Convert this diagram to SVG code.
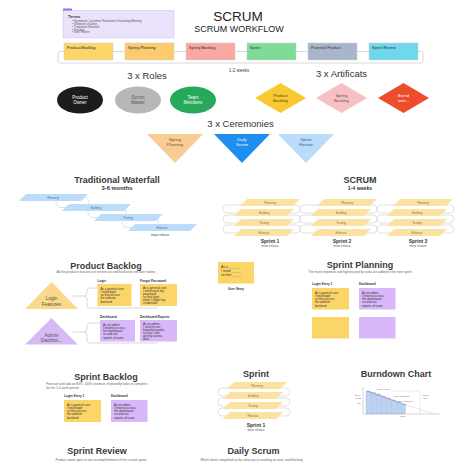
<svg xmlns="http://www.w3.org/2000/svg" width="474" height="474" viewBox="0 0 474 474">
<defs>
<style>
text{font-family:"Liberation Sans",Arial,sans-serif;}
.title{font-size:9px;font-weight:bold;fill:#3a3a3a;text-anchor:middle;}
.sub{font-size:3.2px;fill:#666;text-anchor:middle;}
.tiny{font-size:3px;fill:#555;}
.lbl{font-size:3.6px;font-weight:bold;fill:#555;}
.ctr{text-anchor:middle;}
.wfbox{stroke:#cfcfcf;stroke-width:0.5;}
.conn{fill:none;stroke:#cfcfcf;stroke-width:0.8;}
.pill{fill:#fff;stroke:#cfcfcf;stroke-width:0.6;}
.wf{fill:#bcdcfb;}
.sp{fill:#fbe2a0;}
.pt{font-size:3px;fill:#5a6a80;text-anchor:middle;}
.st{font-size:3px;fill:#8a7440;text-anchor:middle;}
.ny{fill:#fcd569;}
.np{fill:#d9b8f9;}
.nt{font-size:3px;fill:#333;}
.big{font-size:9.5px;fill:#333;text-anchor:middle;}
</style>
<path id="wfp" d="M7,0 H69 L62,7 H0 Z"/>
<path id="spp" d="M7,0 H60 L53,7 H0 Z"/>
</defs>
<rect width="474" height="474" fill="#ffffff"/>

<!-- Terms -->
<g id="terms">
<rect x="63" y="10.5" width="111" height="27.5" fill="#ebe2fc" stroke="#cdbaf2" stroke-width="0.5"/>
<rect x="63" y="8.5" width="9" height="2" fill="#9b6ee0"/>
<text x="68" y="17.5" style="font-size:4.2px;font-weight:bold;fill:#333">Terms</text>
<g class="tiny" style="font-size:2.9px">
<text x="72" y="21.8">• Systematic Customer Resolution Unraveling Meeting</text>
<text x="72" y="24.7">• Definition of Done</text>
<text x="72" y="27.6">• Traditional Waterfall</text>
<text x="72" y="30.5">• Standup</text>
<text x="72" y="33.4">• User Stories</text>
</g>
</g>

<text x="238" y="21" style="font-size:13.5px;fill:#222;text-anchor:middle">SCRUM</text>
<text x="239" y="32" style="font-size:9px;fill:#222;text-anchor:middle">SCRUM WORKFLOW</text>

<!-- Workflow -->
<g id="workflow-connectors">
<path class="conn" d="M113 51.5 H125 M174 51.5 H186 M235 51.5 H247 M296 51.5 H308 M357 51.5 H369"/>
<path class="conn" d="M418 51.5 H421 Q423 51.5 423 53.5 V61 Q423 63 421 63 H60 Q58 63 58 61 V53.5 Q58 51.5 60 51.5 H64"/>
</g>
<g id="wf-product-backlog"><rect class="wfbox" x="64" y="43" width="49" height="17" fill="#fcd667"/><text class="lbl" x="67" y="48.5">Product Backlog</text></g>
<g id="wf-spring-planning"><rect class="wfbox" x="125" y="43" width="49" height="17" fill="#fbcb6d"/><text class="lbl" x="128" y="48.5">Spring Planning</text></g>
<g id="wf-spring-backlog"><rect class="wfbox" x="186" y="43" width="49" height="17" fill="#f9a8a4"/><text class="lbl" x="189" y="48.5">Spring Backlog</text></g>
<g id="wf-sprint"><rect class="wfbox" x="247" y="43" width="49" height="17" fill="#7edc98"/><text class="lbl" x="250" y="48.5">Sprint</text></g>
<g id="wf-potential-product"><rect class="wfbox" x="308" y="43" width="49" height="17" fill="#a9b5ca"/><text class="lbl" x="311" y="48.5">Potential Product</text></g>
<g id="wf-sprint-review"><rect class="wfbox" x="369" y="43" width="49" height="17" fill="#6ed8ef"/><text class="lbl" x="372" y="48.5">Sprint Review</text></g>
<text x="239" y="72" style="font-size:4.5px;fill:#444;text-anchor:middle">1-2 weeks</text>

<!-- Roles -->
<text class="big" x="147" y="79">3 x Roles</text>
<g id="role-po"><ellipse cx="80" cy="100" rx="23" ry="13.5" fill="#1c1c1c"/><text class="ctr" x="80" y="98.5" style="font-size:4.5px;fill:#fff">Product</text><text class="ctr" x="80" y="104" style="font-size:4.5px;fill:#fff">Owner</text></g>
<g id="role-sm"><ellipse cx="138" cy="100" rx="23" ry="13.5" fill="#b7b7b7"/><text class="ctr" x="138" y="98.5" style="font-size:4.5px;fill:#555">Scrum</text><text class="ctr" x="138" y="104" style="font-size:4.5px;fill:#555">Master</text></g>
<g id="role-tm"><ellipse cx="193" cy="100" rx="23" ry="13.5" fill="#27a95c"/><text class="ctr" x="193" y="98.5" style="font-size:4.5px;fill:#fff">Team</text><text class="ctr" x="193" y="104" style="font-size:4.5px;fill:#fff">Members</text></g>

<!-- Artifacts -->
<text class="big" x="341.5" y="77">3 x Artificats</text>
<g id="art-pb"><polygon points="280.5,83 306,98 280.5,113 255,98" fill="#f9c932"/><text class="ctr" x="280.5" y="96.5" style="font-size:4.2px;fill:#5a4500">Product</text><text class="ctr" x="280.5" y="101.8" style="font-size:4.2px;fill:#5a4500">Backlog</text></g>
<g id="art-sb"><polygon points="341.5,83 367,98 341.5,113 316,98" fill="#f7c0c2"/><text class="ctr" x="341.5" y="96.5" style="font-size:4.2px;fill:#555">Spring</text><text class="ctr" x="341.5" y="101.8" style="font-size:4.2px;fill:#555">Backlog</text></g>
<g id="art-bd"><polygon points="403.5,83 429,98 403.5,113 378,98" fill="#ee4c2c"/><text class="ctr" x="403.5" y="96.5" style="font-size:4.2px;fill:#fff">Burnd</text><text class="ctr" x="403.5" y="101.8" style="font-size:4.2px;fill:#fff">own...</text></g>

<!-- Ceremonies -->
<text class="big" x="240.5" y="127">3 x Ceremonies</text>
<g id="cer-sp"><polygon points="147,134 203,134 175,163" fill="#f9cc95"/><text class="ctr" x="175" y="140.5" style="font-size:4.2px;fill:#6a5030">Spring</text><text class="ctr" x="175" y="145.5" style="font-size:4.2px;fill:#6a5030">Planning</text></g>
<g id="cer-ds"><polygon points="214,134 270,134 242,163" fill="#1f8ef1"/><text class="ctr" x="242" y="140.5" style="font-size:4.2px;fill:#fff">Daily</text><text class="ctr" x="242" y="145.5" style="font-size:4.2px;fill:#fff">Scrum</text></g>
<g id="cer-sr"><polygon points="278,134 334,134 306,163" fill="#b9dcfb"/><text class="ctr" x="306" y="140.5" style="font-size:4.2px;fill:#4a5a70">Sprint</text><text class="ctr" x="306" y="145.5" style="font-size:4.2px;fill:#4a5a70">Review</text></g>

<!-- Traditional Waterfall -->
<g id="waterfall">
<text class="title" x="117" y="183">Traditional Waterfall</text>
<text x="117" y="189.5" style="font-size:5.8px;font-weight:bold;fill:#333;text-anchor:middle">3-6 months</text>
<rect class="pill" x="56" y="197" width="33" height="10.5" rx="5"/>
<rect class="pill" x="88" y="207" width="38" height="10.5" rx="5"/>
<rect class="pill" x="122" y="217" width="36" height="10.5" rx="5"/>
<use href="#wfp" class="wf" x="19" y="194"/><text class="pt" x="53" y="198.6">Planning</text>
<use href="#wfp" class="wf" x="62" y="204"/><text class="pt" x="96" y="208.6">Building</text>
<use href="#wfp" class="wf" x="94" y="214"/><text class="pt" x="128" y="218.6">Testing</text>
<use href="#wfp" class="wf" x="128" y="224"/><text class="pt" x="162" y="228.6">Release</text>
<text class="ctr" x="160" y="235.8" style="font-size:3px;fill:#444">major release</text>
</g>

<!-- SCRUM sprints -->
<g id="scrum-sprints">
<text class="title" x="360" y="183">SCRUM</text>
<text x="360" y="189.5" style="font-size:5.2px;font-weight:bold;fill:#333;text-anchor:middle">1-4 weeks</text>
<g id="sprint1">
<rect class="pill" x="223" y="205" width="77" height="8" rx="4"/>
<rect class="pill" x="223" y="215" width="77" height="8" rx="4"/>
<rect class="pill" x="223" y="225" width="77" height="8" rx="4"/>
<use href="#spp" class="sp" x="240" y="199"/><text class="st" x="270" y="203.5">Planning</text>
<use href="#spp" class="sp" x="234" y="209"/><text class="st" x="264" y="213.5">Building</text>
<use href="#spp" class="sp" x="234" y="219"/><text class="st" x="264" y="223.5">Testing</text>
<use href="#spp" class="sp" x="234" y="229"/><text class="st" x="264" y="233.5">Release</text>
<text class="ctr" x="270" y="243" style="font-size:5px;font-weight:bold;fill:#333">Sprint 1</text>
<text class="ctr" x="270" y="247" style="font-size:2.8px;fill:#555">minor release</text>
</g>
<g id="sprint2">
<rect class="pill" x="300" y="205" width="77" height="8" rx="4"/>
<rect class="pill" x="300" y="215" width="77" height="8" rx="4"/>
<rect class="pill" x="300" y="225" width="77" height="8" rx="4"/>
<use href="#spp" class="sp" x="317" y="199"/><text class="st" x="347" y="203.5">Planning</text>
<use href="#spp" class="sp" x="311" y="209"/><text class="st" x="341" y="213.5">Building</text>
<use href="#spp" class="sp" x="311" y="219"/><text class="st" x="341" y="223.5">Testing</text>
<use href="#spp" class="sp" x="311" y="229"/><text class="st" x="341" y="233.5">Release</text>
<text class="ctr" x="342" y="243" style="font-size:5px;font-weight:bold;fill:#333">Sprint 2</text>
<text class="ctr" x="342" y="247" style="font-size:2.8px;fill:#555">minor release</text>
</g>
<g id="sprint3">
<rect class="pill" x="377" y="205" width="77" height="8" rx="4"/>
<rect class="pill" x="377" y="215" width="77" height="8" rx="4"/>
<rect class="pill" x="377" y="225" width="77" height="8" rx="4"/>
<use href="#spp" class="sp" x="393" y="199"/><text class="st" x="423" y="203.5">Planning</text>
<use href="#spp" class="sp" x="387" y="209"/><text class="st" x="417" y="213.5">Building</text>
<use href="#spp" class="sp" x="387" y="219"/><text class="st" x="417" y="223.5">Testing</text>
<use href="#spp" class="sp" x="387" y="229"/><text class="st" x="417" y="233.5">Release</text>
<text class="ctr" x="418" y="243" style="font-size:5px;font-weight:bold;fill:#333">Sprint 3</text>
<text class="ctr" x="418" y="247" style="font-size:2.8px;fill:#555">minor release</text>
</g>
</g>

<!-- Product Backlog -->
<g id="product-backlog">
<text class="title" x="106" y="269">Product Backlog</text>
<text class="sub" x="106" y="273">All the products features are written out and bucketed into user stories</text>
<g id="pb-connectors">
<path class="conn" d="M72 296 H84 Q87 296 87 293 V291 Q87 288 90 288 H97"/>
<path class="conn" d="M84 296 Q87 296 87 299 V305 Q87 308 90 308 H156 Q158 308 158 306"/>
<path class="conn" d="M72 332 H84 Q87 332 87 329 V326 Q87 323 90 323 H100"/>
<path class="conn" d="M84 332 Q87 332 87 335 V340 Q87 343 90 343 H156 Q158 343 158 341"/>
</g>
<g id="tri-login"><polygon points="51.5,282 78,309 25,309" fill="#fbd98a"/><text class="ctr" x="51.5" y="300" style="font-size:5px;fill:#555">Login</text><text class="ctr" x="51.5" y="305.8" style="font-size:5px;fill:#555">Features</text></g>
<g id="tri-admin"><polygon points="51.5,318 78,344.5 25,344.5" fill="#d7b9f6"/><text class="ctr" x="51.5" y="336.5" style="font-size:5px;fill:#555">Admin</text><text class="ctr" x="51.5" y="342.3" style="font-size:5px;fill:#555">Dashbo...</text></g>
<g id="note-login">
<text x="97.5" y="281.5" style="font-size:3.2px;font-weight:bold;fill:#333">Login</text>
<rect class="ny" x="97.5" y="284" width="34" height="22"/>
<g class="nt"><text x="100.5" y="289.5">As a general user</text><text x="100.5" y="292.8">I need login</text><text x="100.5" y="296.1">so that access</text><text x="100.5" y="299.4">the website</text><text x="100.5" y="302.7">backend</text></g>
</g>
<g id="note-forgot">
<text x="140" y="281.5" style="font-size:3.2px;font-weight:bold;fill:#333">Forgot Password</text>
<rect class="ny" x="140" y="284" width="37" height="22"/>
<g class="nt"><text x="143" y="289">As a general user</text><text x="143" y="292">I need reset my</text><text x="143" y="295">password</text><text x="143" y="298">so that login</text><text x="143" y="301">when I forget my</text><text x="143" y="304">credentials</text></g>
</g>
<g id="note-dashboard">
<text x="100" y="317.5" style="font-size:3.2px;font-weight:bold;fill:#333">Dashboard</text>
<rect class="np" x="100" y="320" width="35" height="21.5"/>
<g class="nt"><text x="103" y="325.5">As an admin</text><text x="103" y="328.8">I need to access</text><text x="103" y="332.1">the dashboard</text><text x="103" y="335.4">so and see</text><text x="103" y="338.7">reports of users</text></g>
</g>
<g id="note-dashreports">
<text x="140" y="317.5" style="font-size:3.2px;font-weight:bold;fill:#333">Dashboard Reports</text>
<rect class="np" x="140" y="320" width="37" height="21.5"/>
<g class="nt"><text x="143" y="325">As an admin</text><text x="143" y="328">I need to see</text><text x="143" y="331">beautiful graphs</text><text x="143" y="334">so that I can</text><text x="143" y="337">quickly assess</text><text x="143" y="340">data</text></g>
</g>
</g>

<!-- User Story -->
<g id="user-story">
<rect class="ny" x="218" y="262" width="36" height="21.5"/>
<g class="nt" style="font-size:3.4px"><text x="221" y="267.5">As a <tspan fill="#a08040">______</tspan></text><text x="221" y="271.5">I need <tspan fill="#a08040">_____</tspan></text><text x="221" y="275.5">so that <tspan fill="#a08040">_____</tspan></text></g>
<text class="ctr" x="236" y="289.5" style="font-size:3.2px;font-weight:bold;fill:#333">User Story</text>
</g>

<!-- Sprint Planning -->
<g id="sprint-planning">
<text class="title" x="360" y="268">Sprint Planning</text>
<text class="sub" x="360" y="272.5">The most important and highest priority tasks are added to the next sprint</text>
<text x="312" y="285" style="font-size:3.2px;font-weight:bold;fill:#333">Login Story 1</text>
<rect class="ny" x="312" y="288" width="37" height="21.5"/>
<g class="nt"><text x="315" y="293.5">As a general user</text><text x="315" y="296.8">I need login</text><text x="315" y="300.1">so that access</text><text x="315" y="303.4">the website</text><text x="315" y="306.7">backend</text></g>
<text x="359" y="285" style="font-size:3.2px;font-weight:bold;fill:#333">Dashboard</text>
<rect class="np" x="359" y="288" width="36.5" height="21.5"/>
<g class="nt"><text x="362" y="293.5">As an admin</text><text x="362" y="296.8">I need to access</text><text x="362" y="300.1">the dashboard</text><text x="362" y="303.4">so and see</text><text x="362" y="306.7">reports of users</text></g>
<rect class="ny" x="312" y="317" width="37" height="21.5"/>
<rect class="np" x="359" y="317" width="36.5" height="21.5"/>
</g>

<!-- Sprint Backlog -->
<g id="sprint-backlog">
<text class="title" x="106" y="380">Sprint Backlog</text>
<text x="46" y="384.5" style="font-size:3.2px;fill:#666">Forecast and add an 80%- 100% estimate of possibly tasks to complete</text>
<text x="46" y="388.5" style="font-size:3.2px;fill:#666">for the 1-4 week period</text>
<text x="64" y="396.5" style="font-size:3.2px;font-weight:bold;fill:#333">Login Story 1</text>
<rect class="ny" x="64" y="400" width="37" height="22"/>
<g class="nt"><text x="67" y="405.5">As a general user</text><text x="67" y="408.8">I need login</text><text x="67" y="412.1">so that access</text><text x="67" y="415.4">the website</text><text x="67" y="418.7">backend</text></g>
<text x="111" y="396.5" style="font-size:3.2px;font-weight:bold;fill:#333">Dashboard</text>
<rect class="np" x="111" y="400" width="36.5" height="22"/>
<g class="nt"><text x="114" y="405.5">As an admin</text><text x="114" y="408.8">I need to access</text><text x="114" y="412.1">the dashboard</text><text x="114" y="415.4">so and see</text><text x="114" y="418.7">reports of users</text></g>
</g>

<!-- Sprint (bottom) -->
<g id="sprint-bottom">
<text class="title" x="256" y="377">Sprint</text>
<rect class="pill" x="218" y="388" width="72" height="8" rx="4"/>
<rect class="pill" x="218" y="398" width="72" height="8" rx="4"/>
<rect class="pill" x="218" y="408" width="72" height="8" rx="4"/>
<use href="#spp" class="sp" x="227" y="382"/><text class="st" x="257" y="386.5">Planning</text>
<use href="#spp" class="sp" x="223" y="392"/><text class="st" x="253" y="396.5">Building</text>
<use href="#spp" class="sp" x="223" y="402"/><text class="st" x="253" y="406.5">Testing</text>
<use href="#spp" class="sp" x="223" y="412"/><text class="st" x="253" y="416.5">Release</text>
<text class="ctr" x="256" y="427" style="font-size:5px;font-weight:bold;fill:#333">Sprint 1</text>
<text class="ctr" x="256" y="431" style="font-size:2.8px;fill:#555">minor release</text>
</g>

<!-- Burndown -->
<g id="burndown">
<text class="title" x="396" y="377">Burndown Chart</text>
<g fill="#bcd2f2" stroke="#8aaedc" stroke-width="0.3">
<rect x="366" y="391" width="4.5" height="23"/>
<rect x="371" y="392.5" width="4.5" height="21.5"/>
<rect x="376" y="394" width="4.5" height="20"/>
<rect x="381" y="396" width="4.5" height="18"/>
<rect x="386" y="398" width="4.5" height="16"/>
<rect x="391" y="400" width="4.5" height="14"/>
<rect x="396" y="402" width="4.5" height="12"/>
<rect x="401" y="404" width="4.5" height="10"/>
</g>
<path d="M363 387 V414 H440" fill="none" stroke="#999" stroke-width="0.4"/>
<path d="M367 391 L406 405" fill="none" stroke="#666" stroke-width="0.4"/>
<path d="M406 405 L434 414" fill="none" stroke="#999" stroke-width="0.4" stroke-dasharray="1,0.8"/>
<path d="M393 391 H420 V414" fill="none" stroke="#bbb" stroke-width="0.3"/>
<g style="font-size:2.2px;fill:#666">
<text x="377" y="389.5">Ideal velocity</text>
<text x="394" y="397">Work remaining</text>
<text x="397" y="402">Work completed</text>
<text x="423" y="396">Sprint</text>
<text x="423" y="398.5">end</text>
<text x="355" y="396">Story</text>
<text x="355" y="398.5">Points</text>
<text x="357" y="404">100</text>
<text x="400" y="417">Today</text>
</g>
</g>

<!-- Review & Daily -->
<g id="sprint-review">
<text class="title" x="97" y="454">Sprint Review</text>
<text class="sub" x="101" y="460.5">Product owner gets to see accomplishments of the current sprint</text>
</g>
<g id="daily-scrum">
<text class="title" x="253.5" y="454">Daily Scrum</text>
<text class="sub" x="251.5" y="460.5">What's been completed so far, what you're working on next, and blocking</text>
</g>
</svg>
